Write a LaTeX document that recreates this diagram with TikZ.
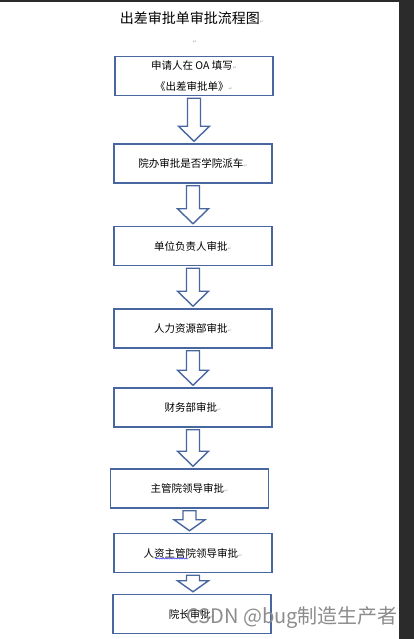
\documentclass[tikz,border=0pt]{standalone}
\usepackage{fontspec}
\setmainfont{Noto Sans CJK SC}
\newfontfamily\symfont{DejaVu Sans}
\usetikzlibrary{calc}
\usetikzlibrary{decorations.pathmorphing}
\usepackage{xcolor}

\definecolor{boxblue}{RGB}{72,102,160}
\definecolor{markgray}{RGB}{175,175,175}
\definecolor{framedark}{RGB}{43,43,43}
\definecolor{wmgray}{RGB}{140,140,140}

\newcommand{\retmark}{{\symfont\color{markgray}\fontsize{5}{5}\selectfont ↵}}

\tikzset{
stepbox/.style={draw=boxblue, line width=1.5pt, fill=white, minimum width=158pt, minimum height=39pt, inner sep=0pt, align=center, font=\fontsize{10.5}{21}\selectfont},
blockarrow/.style={draw=boxblue, line width=1.4pt, fill=white, line join=miter,
 to path={let \p1=(\tikztostart), \p2=(\tikztotarget) in
 (\x1-6.5pt,\y1-2pt) -- (\x1+6.5pt,\y1-2pt) -- (\x1+6.5pt,\y2+2pt+#1)
 -- (\x1+15.5pt,\y2+2pt+#1) -- (\x1,\y2+2pt) -- (\x1-15.5pt,\y2+2pt+#1)
 -- (\x1-6.5pt,\y2+2pt+#1) -- cycle}},
blockarrow/.default=15pt
}

\begin{document}
\begin{tikzpicture}[x=1pt,y=-1pt]
\useasboundingbox (0,0) rectangle (414,639);
\fill[white] (0,0) rectangle (414,639);

%screen frame
\fill[framedark] (0,0) rectangle (414,2);
\fill[framedark] (399,0) rectangle (414,639);

\node (title) at (192,18) {\fontsize{14}{14}\selectfont 出差审批单审批流程图\retmark};
\node (blank) at (195,42) {\retmark};

%steps
\node[stepbox] (apply) at (194,76) {申请人在 OA 填写\retmark\\《出差审批单》\retmark};
\node[stepbox] (office) at (193,163.5) {院办审批是否学院派车\retmark};
\node[stepbox] (unit) at (193,246) {单位负责人审批\retmark};
\node[stepbox] (hr) at (193,328.5) {人力资源部审批\retmark};
\node[stepbox] (finance) at (193,407.5) {财务部审批\retmark};
\node[stepbox] (leader) at (189.5,488.5) {主管院领导审批\retmark};
\node[stepbox] (hrleader) at (193,553) {人资主管院领导审批\retmark};
\node[stepbox] (president) at (192,614) {院长审批\retmark};

%arrows
\draw[blockarrow] (apply.south) to (office.north);
\draw[blockarrow] (office.south) to (unit.north);
\draw[blockarrow] (unit.south) to (hr.north);
\draw[blockarrow] (hr.south) to (finance.north);
\draw[blockarrow] (finance.south) to (leader.north);
\draw[blockarrow=11pt] (leader.south) to (hrleader.north);
\draw[blockarrow=11pt] (hrleader.south) to (president.north);

%spell check line
\draw[blue!80, line width=0.5pt, decorate, decoration={snake, amplitude=0.6pt, segment length=2.5pt}]
 ($(hrleader.center)+(-38,5.5)$) -- ($(hrleader.center)+(-5,5.5)$);

\node[text=wmgray, anchor=east, inner sep=0pt, font=\fontsize{20}{20}\selectfont] (wm) at (398,618) {CSDN @bug制造生产者};
\end{tikzpicture}
\end{document}
